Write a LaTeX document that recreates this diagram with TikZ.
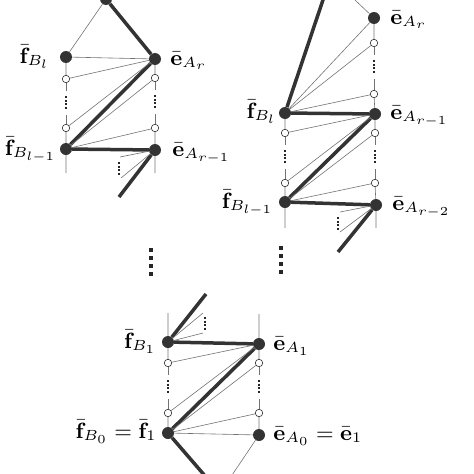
\documentclass[tikz,border=0pt]{standalone}
\usepackage{xcolor}
\begin{document}
\begin{tikzpicture}[x=1pt,y=-1pt,
big/.style={circle,fill=black!80,inner sep=0pt,minimum size=12pt},
wee/.style={circle,draw=black!80,fill=white,line width=0.6pt,inner sep=0pt,minimum size=7.5pt},
lab/.style={font=\small,scale=2.45,transform shape,inner sep=0pt},
hv/.style={black!80,line width=3.5pt},
tn/.style={black!55,line width=0.6pt},
gp/.style={tn,dash pattern=on 8pt off 24pt on 12pt},
dt/.style={black!85,line width=2pt,dash pattern=on 2pt off 1.5pt},
dtg/.style={black!85,line width=2pt,dash pattern=on 0pt off 13pt on 2pt off 1.5pt on 2pt off 1.5pt on 2pt off 1.5pt on 2pt off 60pt},
bigdots/.style={black!85,line width=4pt,dash pattern=on 4pt off 4pt}]
\useasboundingbox (0,0) rectangle (474,474);
\clip (0,0) rectangle (474,474);
% upper left ladder
\node[big] (t1) at (106,-1){};
\node[big] (fA) at (66,57){};\node[big] (eA) at (155,59){};
\node[wee] (a1) at (66,79){};\node[wee] (a2) at (66,128){};
\node[wee] (b1) at (155,78){};\node[wee] (b2) at (155,128){};
\node[big] (fB) at (66,149){};\node[big] (eB) at (155,150){};
\node[lab,anchor=base east] (Lt1) at (62,-7){$\bar{\mathbf f}_{B_{l+1}}$};
\node[lab,anchor=base east] (LfA) at (50,63){$\bar{\mathbf f}_{B_l}$};
\node[lab,anchor=base west] (LeA) at (170,65){$\bar{\mathbf e}_{A_r}$};
\node[lab,anchor=base east] (LfB) at (57,155){$\bar{\mathbf f}_{B_{l-1}}$};
\node[lab,anchor=base west] (LeB) at (172,156){$\bar{\mathbf e}_{A_{r-1}}$};
\coordinate (fBd) at (66,173);\coordinate (eBd) at (155,173);
\coordinate (eBs) at (119,197);\coordinate (eBu) at (120,157);\coordinate (eBv) at (121,178);
\coordinate (eBp) at (119,162);\coordinate (eBq) at (119,174.5);
\draw[hv] (t1)--(eA) (fB)--(eA) (fB)--(eB) (eB)--(eBs);
\draw[tn] (t1)--(fA) (fA)--(eA) (a1)--(eA) (a2)--(eA) (fB)--(b1) (fB)--(b2)
  (fA)--(a1) (a2)--(fB) (fB)--(fBd) (eA)--(b1) (b2)--(eB) (eB)--(eBd) (eB)--(eBu) (eB)--(eBv);
\draw[gp] (a1)--(a2) (b1)--(b2);
\draw[dtg] (a1)--(a2) (b1)--(b2);
\draw[dt] (eBp)--(eBq);
% upper right ladder
\node[big] (eT) at (374,18){};
\node[wee] (c1) at (374,43){};\node[wee] (c2) at (374,94){};
\node[big] (fC) at (285,113){};\node[big] (eC) at (375,114){};
\node[wee] (d1) at (285,133){};\node[wee] (d2) at (285,183){};
\node[wee] (g1) at (375,133){};\node[wee] (g2) at (375,183){};
\node[big] (fD) at (285,202){};\node[big] (eD) at (376,205){};
\node[lab,anchor=base west] (LeT) at (390,24){$\bar{\mathbf e}_{A_r}$};
\node[lab,anchor=base east] (LfC) at (277,118){$\bar{\mathbf f}_{B_l}$};
\node[lab,anchor=base west] (LeC) at (390,119){$\bar{\mathbf e}_{A_{r-1}}$};
\node[lab,anchor=base east] (LfD) at (274,208){$\bar{\mathbf f}_{B_{l-1}}$};
\node[lab,anchor=base west] (LeD) at (392,210){$\bar{\mathbf e}_{A_{r-2}}$};
\coordinate (eTu) at (338,-16);\coordinate (fCu) at (328,-15);
\coordinate (fDd) at (285,228);\coordinate (eDd) at (376,228);
\coordinate (eDs) at (338,252);\coordinate (eDu) at (340,212);\coordinate (eDv) at (340,232);
\coordinate (eDp) at (338,217);\coordinate (eDq) at (338,229.5);
\draw[hv] (fC)--(fCu) (fC)--(eC) (fD)--(eC) (fD)--(eD) (eD)--(eDs);
\draw[tn] (eT)--(eTu) (fC)--(eT) (fC)--(c1) (fC)--(c2) (d1)--(eC) (d2)--(eC) (fD)--(g1) (fD)--(g2)
  (eT)--(c1) (c2)--(eC) (fC)--(d1) (d2)--(fD) (fD)--(fDd) (eC)--(g1) (g2)--(eD) (eD)--(eDd)
  (eD)--(eDu) (eD)--(eDv);
\draw[gp] (c1)--(c2) (d1)--(d2) (g1)--(g2);
\draw[dtg] (c1)--(c2) (d1)--(d2) (g1)--(g2);
\draw[dt] (eDp)--(eDq);
% vertical ellipsis
\coordinate (m1) at (151,248);\coordinate (m2) at (151,276);
\coordinate (n1) at (281,246);\coordinate (n2) at (281,274);
\draw[bigdots] (m1)--(m2) (n1)--(n2);
% bottom ladder
\node[big] (fE) at (168,342){};\node[big] (eE) at (259,344){};
\node[wee] (h1) at (168,363){};\node[wee] (h2) at (168,413){};
\node[wee] (k1) at (259,363){};\node[wee] (k2) at (259,413){};
\node[big] (fF) at (168,433){};\node[big] (eF) at (259,435){};
\node[lab,anchor=base east] (LfE) at (157,348){$\bar{\mathbf f}_{B_1}$};
\node[lab,anchor=base west] (LeE) at (273,350){$\bar{\mathbf e}_{A_1}$};
\node[lab,anchor=base east] (LfF) at (157,438){$\bar{\mathbf f}_{B_0}=\bar{\mathbf f}_1$};
\node[lab,anchor=base west] (LeF) at (273,440){$\bar{\mathbf e}_{A_0}=\bar{\mathbf e}_1$};
\coordinate (fEs) at (206,294);\coordinate (fEu) at (203,313);\coordinate (fEv) at (203,333);
\coordinate (fEp) at (205,317);\coordinate (fEq) at (205,329.5);
\coordinate (fEt) at (168,313);\coordinate (eEt) at (259,314);
\coordinate (fFs) at (212,484);\coordinate (eFs) at (226,484);
\draw[hv] (fE)--(fEs) (fE)--(eE) (fF)--(eE) (fF)--(fFs);
\draw[tn] (fE)--(fEt) (eE)--(eEt) (fE)--(fEu) (fE)--(fEv) (h1)--(eE) (h2)--(eE) (fF)--(k1) (fF)--(k2)
  (fF)--(eF) (fE)--(h1) (h2)--(fF) (eE)--(k1) (k2)--(eF) (eF)--(eFs);
\draw[gp] (h1)--(h2) (k1)--(k2);
\draw[dtg] (h1)--(h2) (k1)--(k2);
\draw[dt] (fEp)--(fEq);
\end{tikzpicture}
\end{document}
